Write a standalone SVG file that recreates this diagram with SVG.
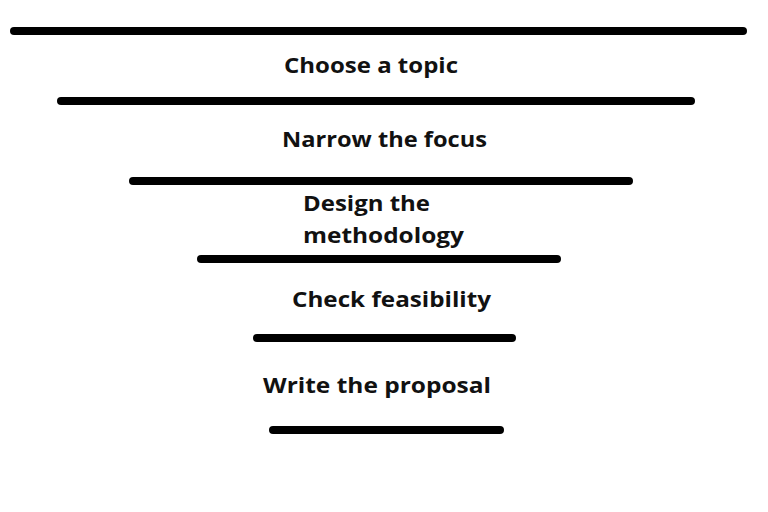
<svg xmlns="http://www.w3.org/2000/svg" width="768" height="512" viewBox="0 0 768 512">
<style>
.bar{stroke:#000;stroke-width:8;stroke-linecap:round;fill:none}
.lbl{font-family:"Open Sans","Liberation Sans",sans-serif;font-weight:bold;font-size:21px;fill:#111}
</style>
<rect width="768" height="512" fill="#fff"/>
<g id="connectors">
<line class="bar" x1="14" y1="31" x2="743" y2="31"/>
<line class="bar" x1="61" y1="101" x2="691" y2="101"/>
<line class="bar" x1="133" y1="181" x2="629" y2="181"/>
<line class="bar" x1="201" y1="259" x2="557" y2="259"/>
<line class="bar" x1="257" y1="338" x2="512" y2="338"/>
<line class="bar" x1="273" y1="430" x2="500" y2="430"/>
</g>
<g id="n1"><text class="lbl" x="284" y="73" textLength="174" lengthAdjust="spacingAndGlyphs">Choose a topic</text></g>
<g id="n2"><text class="lbl" x="282" y="147" textLength="205" lengthAdjust="spacingAndGlyphs">Narrow the focus</text></g>
<g id="n3"><text class="lbl" x="303" y="211" textLength="127" lengthAdjust="spacingAndGlyphs">Design the</text><text class="lbl" x="303" y="243" textLength="161" lengthAdjust="spacingAndGlyphs">methodology</text></g>
<g id="n4"><text class="lbl" x="292" y="307" textLength="199" lengthAdjust="spacingAndGlyphs">Check feasibility</text></g>
<g id="n5"><text class="lbl" x="263" y="393" textLength="228" lengthAdjust="spacingAndGlyphs">Write the proposal</text></g>
</svg>
